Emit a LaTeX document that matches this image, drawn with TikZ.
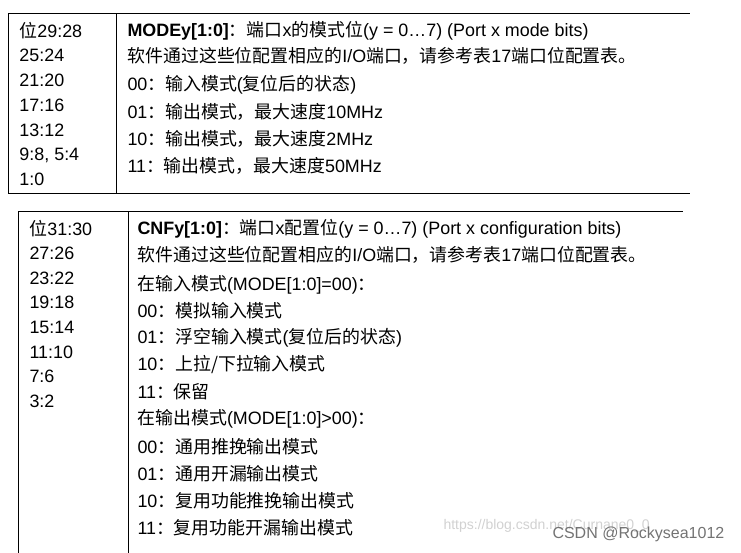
\documentclass[tikz,border=0pt]{standalone}
\usepackage{fontspec}
\setmainfont{Liberation Sans}
\newfontfamily\zh{Noto Sans CJK SC}
\begin{document}
\begin{tikzpicture}[x=1pt,y=-1pt,line width=1pt,
  t/.style={anchor=west,inner sep=0pt,font=\fontsize{17.9}{19}\selectfont}]
\useasboundingbox (0,0) rectangle (741,553);
% top table
\draw (8,14) -- (690,14);
\draw (8,194) -- (690,194);
\draw (8,14) -- (8,194);
\draw (116,14) -- (116,194);
% bottom table
\draw (18,212) -- (683,212);
\draw (18,212) -- (18,553);
\draw (128,212) -- (128,553);
% top left column
\foreach \t [count=\i] in {{\zh 位}29:28,25:24,21:20,17:16,13:12,{9:8, 5:4},1:0}
  \node[t] (l\i) at (19,{31+24.8*(\i-1)}) {\t};
\node[t] (r1) at (127,31) {\textbf{MODEy[1:0]}{\zh ：端口}x{\zh 的模式位}(y = 0…7) (Port x mode bits)};
\node[t] (r2) at (127,56) {\zh 软件通过这些位配置相应的\rmfamily I/O\zh 端口，请参考表\rmfamily 17\zh 端口位配置表。};
\node[t] (r3) at (127,85) {00{\zh ：输入模式}({\zh 复位后的状态})};
\node[t] (r4) at (127,112) {01{\zh ：输出模式，最大速度}10MHz};
\node[t] (r5) at (127,139) {10{\zh ：输出模式，最大速度}2MHz};
\node[t] (r6) at (127,166) {11{\zh ：输出模式，最大速度}50MHz};
% bottom left column
\foreach \t [count=\i] in {{\zh 位}31:30,27:26,23:22,19:18,15:14,11:10,7:6,3:2}
  \node[t] (m\i) at (29,{229+24.6*(\i-1)}) {\t};
\node[t] (s1) at (137,229) {\textbf{CNFy[1:0]}{\zh ：端口}x{\zh 配置位}(y = 0…7) (Port x configuration bits)};
\node[t] (s2) at (137,255) {\zh 软件通过这些位配置相应的\rmfamily I/O\zh 端口，请参考表\rmfamily 17\zh 端口位配置表。};
\node[t] (s3) at (137,285) {{\zh 在输入模式}(MODE[1:0]=00){\zh ：}};
\node[t] (s4) at (137,311) {00{\zh ：模拟输入模式}};
\node[t] (s5) at (137,338) {01{\zh ：浮空输入模式}({\zh 复位后的状态})};
\node[t] (s6) at (137,365) {10{\zh ：上拉/下拉输入模式}};
\node[t] (s7) at (137,392) {11{\zh ：保留}};
\node[t] (s8) at (137,419) {{\zh 在输出模式}(MODE[1:0]>00){\zh ：}};
\node[t] (s9) at (137,447) {00{\zh ：通用推挽输出模式}};
\node[t] (s10) at (137,474) {01{\zh ：通用开漏输出模式}};
\node[t] (s11) at (137,501) {10{\zh ：复用功能推挽输出模式}};
\node[t] (s12) at (137,528) {11{\zh ：复用功能开漏输出模式}};
% watermarks
\node[anchor=west,inner sep=0pt,text=black!18,font=\fontsize{14}{15}\selectfont] (w1) at (443,526) {https://blog.csdn.net/Curnane0\_0};
\node[anchor=west,inner sep=0pt,text=black!55,font=\fontsize{16}{17}\selectfont] (w2) at (552,534) {CSDN @Rockysea1012};
\end{tikzpicture}
\end{document}
